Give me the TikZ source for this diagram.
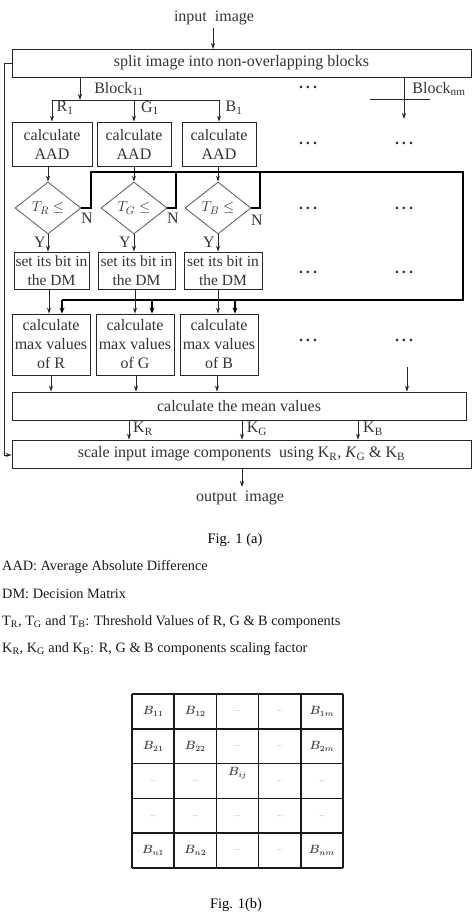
\documentclass[tikz,border=0pt]{standalone}
\usepackage{fontspec}
\setmainfont{Liberation Serif}
\usetikzlibrary{arrows.meta,shapes.geometric}
\newcommand{\fcf}{\fontsize{16}{19}\selectfont}
\newcommand{\mydots}{\textbf{.\hspace{3pt}.\hspace{3pt}.}}
\newcommand{\gd}{{\fontsize{7}{8}\selectfont\color{black!45}...}}
\tikzset{
  box/.style={draw=black!85, line width=0.9pt, inner sep=0pt, align=center, font=\fcf, text=black!80},
  dia/.style={diamond, draw=black!60, line width=0.9pt, minimum width=66pt, minimum height=52pt, aspect=1.27, inner sep=0pt, font=\fontsize{15}{18}\selectfont, text=black!80},
  lbl/.style={font=\fcf, text=black!80, inner sep=0pt},
  dts/.style={font=\fcf, text=black!80, inner sep=0pt},
  arr/.style={-{Stealth[length=6pt,width=4pt]}, line width=0.8pt, draw=black!85},
  thk/.style={line width=2.4pt, draw=black},
  thkarr/.style={-{Stealth[length=6pt,width=5pt]}, line width=2.2pt, draw=black},
  leg/.style={font=\fontsize{14.3}{17}\selectfont, inner sep=0pt, anchor=west, text=black!90},
  cell/.style={font=\fontsize{12}{13}\selectfont\boldmath, text=black!70, inner sep=0pt},
  gridln/.style={line width=1.5pt, draw=black!90}
}
\begin{document}
\begin{tikzpicture}[x=1pt,y=-1pt]
\useasboundingbox (0,0) rectangle (474,913);

% top
\node[lbl] (in) at (214,18) {input\ \ image};
\node[box, minimum width=459pt, minimum height=28pt] (split) at (241.5,63) {split image into non-overlapping blocks};
\draw[arr] (213,28) -- (213,49);

% block11 branch
\coordinate (b11) at (80,100);
\coordinate (hL) at (52,100);
\coordinate (hM) at (134,100);
\coordinate (hR) at (219,100);
\draw[arr] (split.south -| b11) -- (b11);
\draw[line width=0.8pt, black!85] (hL) -- (hR);
\node[lbl] (lb11) at (119,89) {Block\textsubscript{11}};
\node[dts] (d0) at (308,87) {\mydots};
\node[lbl] (lbnm) at (439,89) {Block\textsubscript{nm}};
\coordinate (bnT) at (404,77);
\coordinate (bnB) at (404,119);
\coordinate (bnL) at (370,99);
\coordinate (bnR) at (430,99);
\draw[line width=0.8pt, black!85] (bnL) -- (bnR);
\draw[arr] (bnT) -- (bnB);

% calc AAD
\node[box, minimum width=80pt, minimum height=44pt] (aR) at (52,144) {calculate\\AAD};
\node[box, minimum width=74pt, minimum height=44pt] (aG) at (134,144) {calculate\\AAD};
\node[box, minimum width=74pt, minimum height=44pt] (aB) at (219,144) {calculate\\AAD};
\draw[arr] (hL) -- (hL |- aR.north);
\draw[arr] (hM) -- (hM |- aG.north);
\draw[arr] (hR) -- (hR |- aB.north);
\node[lbl] (lR1) at (65,108) {R\textsubscript{1}};
\node[lbl] (lG1) at (150,108) {G\textsubscript{1}};
\node[lbl] (lB1) at (234,108) {B\textsubscript{1}};
\node[dts] (d1a) at (308,143) {\mydots};
\node[dts] (d1b) at (404,143) {\mydots};

% diamonds
\node[dia] (dR) at (48,208) {$T_R\leq$};
\node[dia] (dG) at (134,208) {$T_G\leq$};
\node[dia] (dB) at (218,208) {$T_B\leq$};
\draw[arr] (aR.south -| dR.north) -- (dR.north);
\draw[arr] (aG.south -| dG.north) -- (dG.north);
\draw[arr] (aB.south -| dB.north) -- (dB.north);
\node[dts] (d2a) at (308,208) {\mydots};
\node[dts] (d2b) at (404,208) {\mydots};
\node[lbl] (nR) at (87,218) {N};
\node[lbl] (nG) at (173,218) {N};
\node[lbl] (nB) at (257,220) {N};
\node[lbl] (yR) at (40,242) {Y};
\node[lbl] (yG) at (125,242) {Y};
\node[lbl] (yB) at (209,242) {Y};

% set boxes
\node[box, minimum width=75pt, minimum height=37pt, font=\fontsize{15.5}{19}\selectfont] (sR) at (51.5,270.5) {set its bit in\\the DM};
\node[box, minimum width=77pt, minimum height=37pt, font=\fontsize{15.5}{19}\selectfont] (sG) at (136.5,270.5) {set its bit in\\the DM};
\node[box, minimum width=78pt, minimum height=37pt, font=\fontsize{15.5}{19}\selectfont] (sB) at (223,270.5) {set its bit in\\the DM};
\draw[arr] (dR.south) -- (dR.south |- sR.north);
\draw[arr] (dG.south) -- (dG.south |- sG.north);
\draw[arr] (dB.south) -- (dB.south |- sB.north);
\node[dts] (d3a) at (308,272) {\mydots};
\node[dts] (d3b) at (404,272) {\mydots};

% thick N loop
\coordinate (kR) at (91,172);
\coordinate (kG) at (176,172);
\coordinate (kB) at (260,172);
\coordinate (kTR) at (463,172);
\coordinate (kBR) at (463,300);
\coordinate (kBL) at (62,300);
\coordinate (tG) at (152,300);
\coordinate (tB) at (235,300);
\draw[thk] (dR.east) -- (dR.east -| kR) -- (kR) -- (kTR) -- (kBR) -- (kBL);
\draw[thk] (dG.east) -- (dG.east -| kG) -- (kG);
\draw[thk] (dB.east) -- (dB.east -| kB) -- (kB);

% max boxes
\node[box, minimum width=78pt, minimum height=61pt] (mR) at (51,344.5) {calculate\\max values\\of R};
\node[box, minimum width=78pt, minimum height=61pt] (mG) at (135,344.5) {calculate\\max values\\of G};
\node[box, minimum width=78pt, minimum height=61pt] (mB) at (219,344.5) {calculate\\max values\\of B};
\draw[thkarr] (kBL) -- (kBL |- mR.north);
\draw[thkarr] (tG) -- (tG |- mG.north);
\draw[thkarr] (tB) -- (tB |- mB.north);
\coordinate (sxR) at (49,289);
\coordinate (sxG) at (135,289);
\coordinate (sxB) at (218,289);
\draw[arr] (sR.south -| sxR) -- (sxR |- mR.north);
\draw[arr] (sG.south -| sxG) -- (sxG |- mG.north);
\draw[arr] (sB.south -| sxB) -- (sxB |- mB.north);
\node[dts] (d4a) at (308,340) {\mydots};
\node[dts] (d4b) at (404,340) {\mydots};

% mean
\node[box, minimum width=454pt, minimum height=28pt] (mean) at (239,406) {calculate the mean values};
\coordinate (x1) at (51,375);
\coordinate (x2) at (136,375);
\coordinate (x3) at (217,375);
\coordinate (x4) at (407,367);
\draw[arr] (mR.south -| x1) -- (x1 |- mean.north);
\draw[arr] (mG.south -| x2) -- (x2 |- mean.north);
\draw[arr] (mB.south -| x3) -- (x3 |- mean.north);
\draw[arr] (x4) -- (x4 |- mean.north);

% scale
\node[box, minimum width=459pt, minimum height=28pt] (scale) at (241.5,454) {scale input image components\ \ using K\textsubscript{R}, \textit{K}\textsubscript{G} \& K\textsubscript{B}};
\coordinate (k1) at (129,420);
\coordinate (k2) at (242,420);
\coordinate (k3) at (358,420);
\draw[arr] (k1) -- (k1 |- scale.north);
\draw[arr] (k2) -- (k2 |- scale.north);
\draw[arr] (k3) -- (k3 |- scale.north);
\node[lbl] (lkR) at (143,429) {K\textsubscript{R}};
\node[lbl] (lkG) at (257,429) {K\textsubscript{G}};
\node[lbl] (lkB) at (373,429) {K\textsubscript{B}};

% feedback left
\coordinate (fb1) at (4,63);
\coordinate (fb2) at (4,455);
\draw[arr] (split.west) -- (fb1) -- (fb2) -- (fb2 -| scale.west);

% output
\node[lbl] (out) at (240,498) {output\ \ image};
\draw[arr] (scale.south -| k2) -- (242,487);

% captions and legend
\node[font=\fontsize{14.5}{17}\selectfont, inner sep=0pt] (fa) at (235,540) {Fig. 1 (a)};
\node[leg] (l1) at (2,567) {AAD: Average Absolute Difference};
\node[leg] (l2) at (2,594) {DM: Decision Matrix};
\node[leg] (l3) at (2,622) {T\textsubscript{R}, T\textsubscript{G} and T\textsubscript{B}: Threshold Values of R, G \& B components};
\node[leg] (l4) at (2,649) {K\textsubscript{R}, K\textsubscript{G} and K\textsubscript{B}: R, G \& B components scaling factor};

% grid
\foreach \i in {0,...,5} {
  \draw[gridln] (132+42.2*\i,694) -- (132+42.2*\i,868);
  \draw[gridln] (132,694+34.8*\i) -- (343,694+34.8*\i);
}
\foreach \r/\row in {1/{$B_{11}$,$B_{12}$,\gd,\gd,$B_{1m}$},
                     2/{$B_{21}$,$B_{22}$,\gd,\gd,$B_{2m}$},
                     3/{\gd,\gd,\gd,\gd,\gd},
                     4/{\gd,\gd,\gd,\gd,\gd},
                     5/{$B_{n1}$,$B_{n2}$,\gd,\gd,$B_{nm}$}} {
  \foreach \t [count=\c] in \row {
    \ifnum\r=3 \ifnum\c=3 \def\t{} \fi\fi
    \node[cell] (g\r\c) at (132+42.2*\c-21.1, 694+34.8*\r-17.4) {\t};
  }
}
\node[cell] (gij) at (237.5,773) {$B_{ij}$};
\node[font=\fontsize{14.5}{17}\selectfont, inner sep=0pt] (fb) at (236,905) {Fig. 1(b)};
\end{tikzpicture}
\end{document}
